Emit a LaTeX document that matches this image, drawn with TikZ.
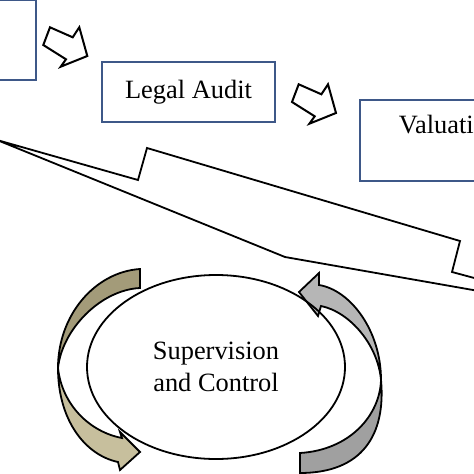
\documentclass[tikz,border=0pt]{standalone}
\usepackage{fontspec}
\setmainfont{Liberation Serif}
\usetikzlibrary{shapes.geometric}
\definecolor{boxblue}{RGB}{62,88,136}
\definecolor{olivedark}{RGB}{163,155,121}
\definecolor{olivelight}{RGB}{199,191,157}
\definecolor{graylight}{RGB}{182,182,182}
\definecolor{graydark}{RGB}{160,160,160}
\tikzset{
  procbox/.style={draw=boxblue,line width=1.4pt,fill=white,rectangle,inner sep=0pt,
    font=\fontsize{26.4}{31.5}\selectfont},
  blockarrow/.style={draw=black,line width=2pt,fill=white,line join=miter},
  boltline/.style={draw=black,line width=1.8pt,line join=miter},
  cyc/.style={draw=black,line width=1.8pt,line join=miter},
  blockarr/.pic={\path[blockarrow] (0,0) -- (6.7,-17.7) -- (29.4,-7.7) -- (36,-17.7)
      -- (44,11) -- (17.4,21.7) -- (22.7,14.3) -- cycle;}
}
\begin{document}
\begin{tikzpicture}[x=1pt,y=-1pt]
\useasboundingbox (0,0) rectangle (474,474);
\clip (0,0) rectangle (474,474);
% process boxes
\node[procbox,minimum width=176pt,minimum height=79.5pt] (start) at (-52,40.4) {};
\node[procbox,minimum width=173pt,minimum height=60pt] (legal) at (188.5,92) {Legal Audit};
\node[procbox,minimum width=179pt,minimum height=81pt,text height=18pt,text depth=33pt]
  (valuation) at (449.5,140.5) {Valuation};
% block arrows between the boxes
\pic at (43.3,45) {blockarr};
\pic at (292,102) {blockarr};
% lightning bolt
\path[boltline] (530,300) -- (285,257) -- (-3,140) -- (138,180) -- (147,148)
  -- (460,241) -- (452,272) -- (530,293);
% left curved arrow
\path[cyc,fill=olivedark] (58,368) .. controls (58,315) and (95,272) .. (140,269)
  -- (140,288) .. controls (100,290) and (62,330) .. (58,368) -- cycle;
\path[cyc,fill=olivelight] (58,368) .. controls (62,405) and (90,432) .. (122,438)
  -- (120,432) -- (140,452) -- (120,470) -- (118,462)
  .. controls (85,455) and (58,420) .. (58,368) -- cycle;
% right curved arrow
\path[cyc,fill=graydark] (381,380) .. controls (380,415) and (350,450) .. (300,453)
  -- (300,473) .. controls (362,473) and (386,435) .. (381,380) -- cycle;
\path[cyc,fill=graylight] (381,380) .. controls (381,330) and (350,290) .. (319,285)
  -- (319,273) -- (299,292) -- (318,316) -- (321,306)
  .. controls (350,312) and (378,345) .. (381,380) -- cycle;
% central ellipse
\node[ellipse,draw=black,line width=1.8pt,minimum width=258pt,minimum height=184pt,
  inner sep=0pt,align=center,font=\fontsize{26.4}{31.5}\selectfont]
  (sup) at (216,367) {Supervision\\and Control};
\end{tikzpicture}
\end{document}
